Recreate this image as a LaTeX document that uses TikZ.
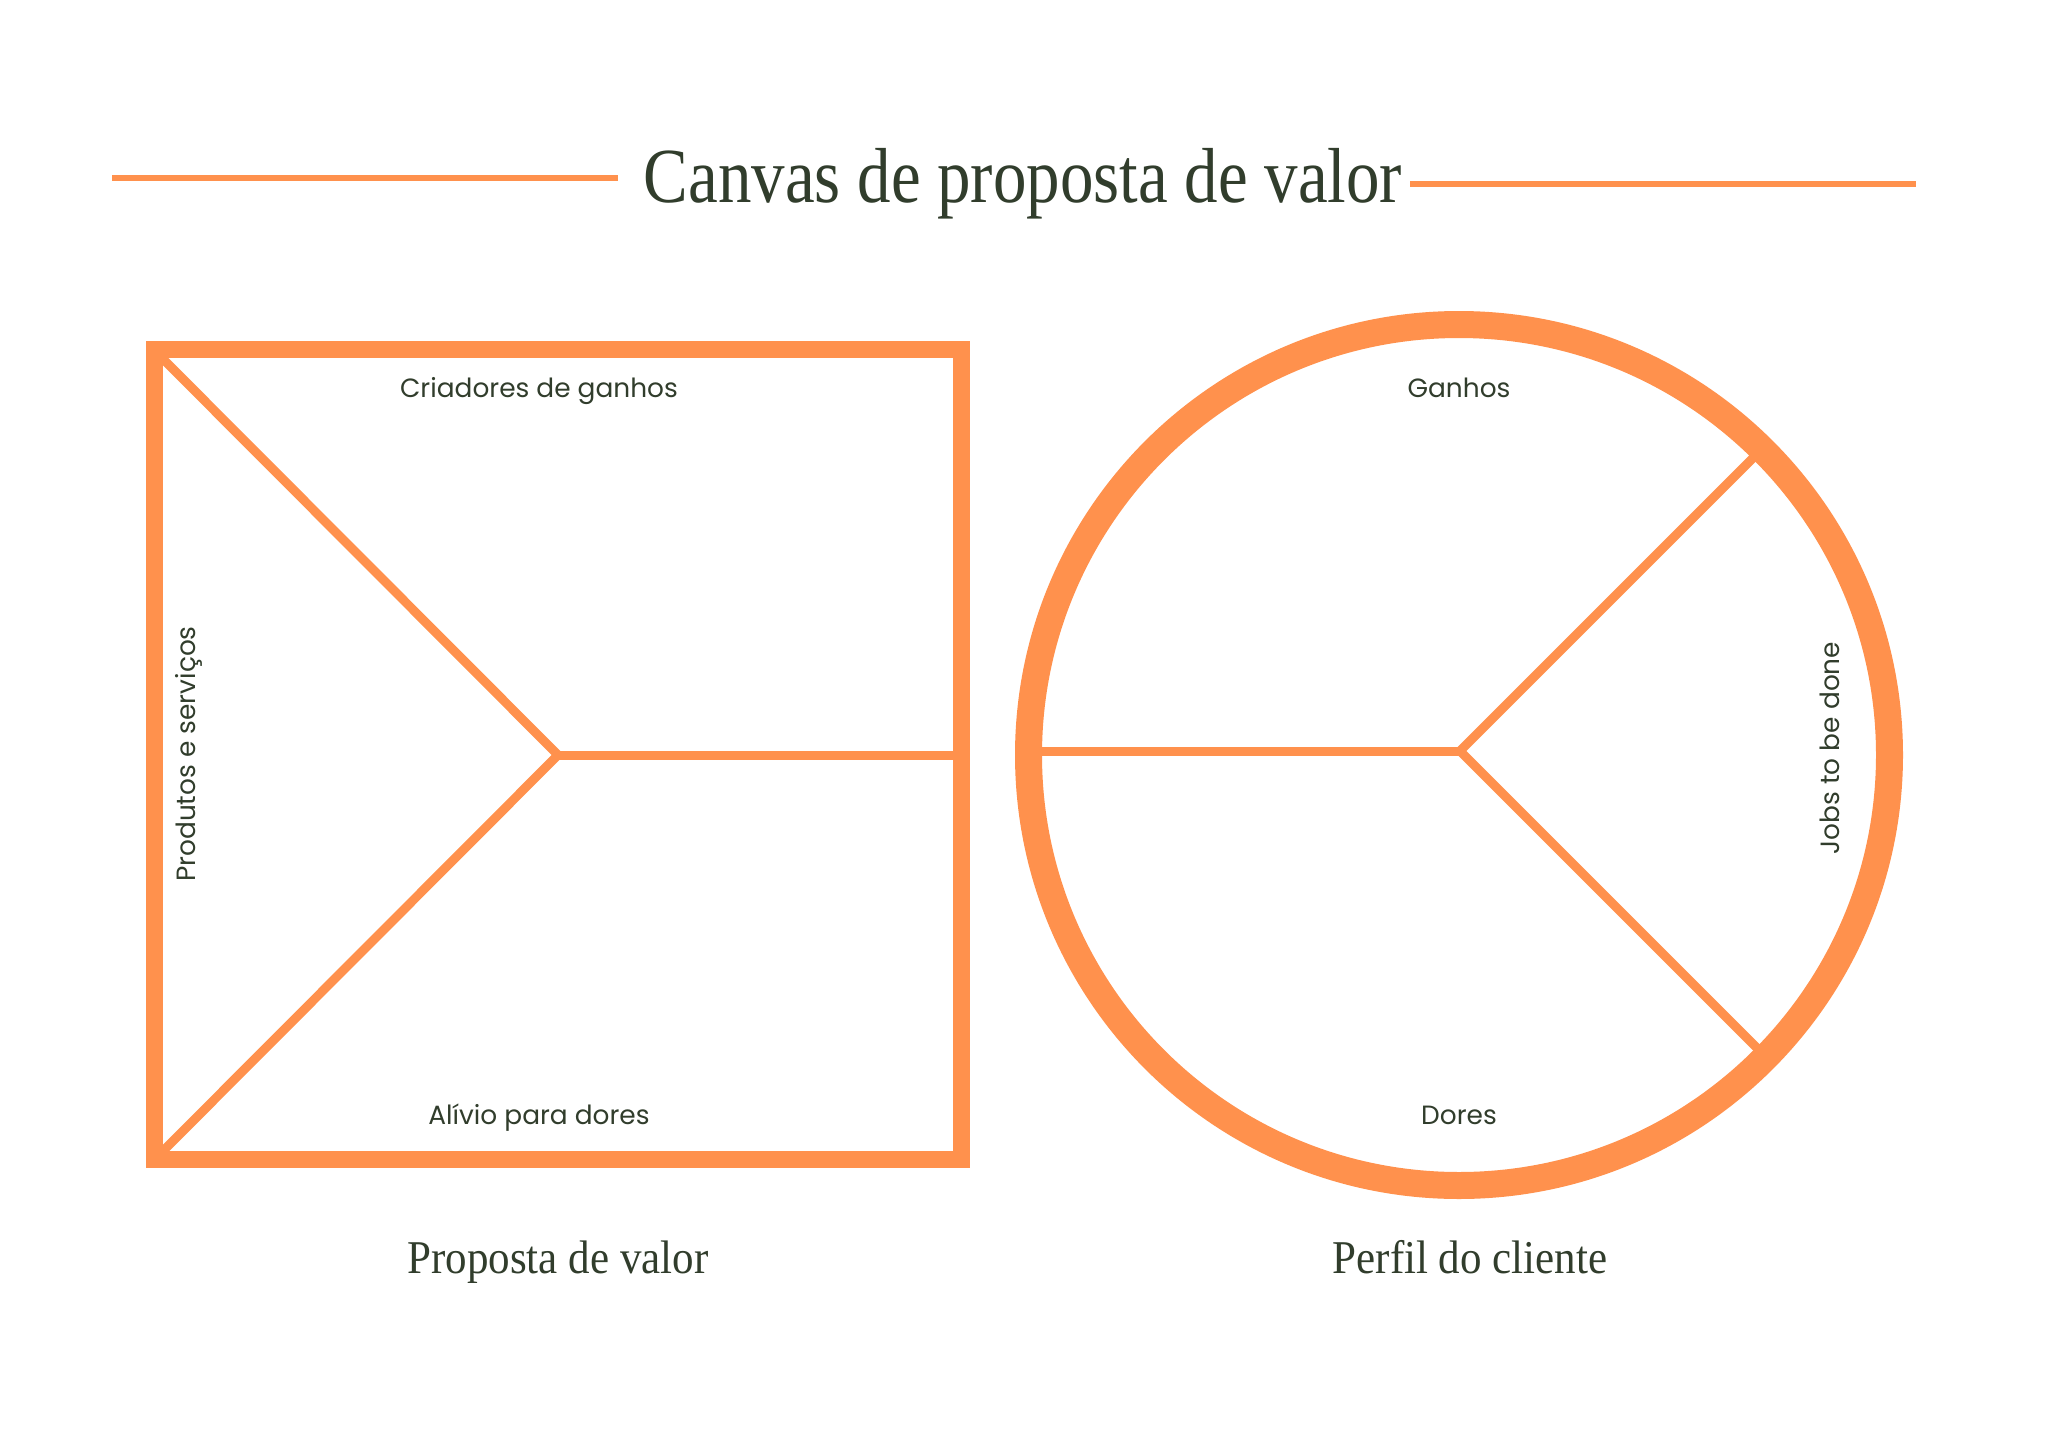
\documentclass[tikz,border=0pt]{standalone}
\usepackage{fontspec}
\setmainfont{Liberation Serif}
\newfontfamily\titlefont[FakeStretch=0.858]{Liberation Serif}
\newfontfamily\subfont[FakeStretch=0.915]{Liberation Serif}
\newfontfamily\labelfont{Poppins}
\definecolor{orng}{HTML}{FF914D}
\definecolor{ink}{HTML}{313D2C}
\begin{document}
\begin{tikzpicture}[x=1pt,y=-1pt,
  rule/.style={draw=orng,line width=6pt},
  frame/.style={draw=orng,line width=17pt},
  ring/.style={draw=orng,line width=27pt},
  divider/.style={draw=orng,line width=9pt,line cap=butt},
  title/.style={text=ink,font=\titlefont\fontsize{78}{90}\selectfont,anchor=base,inner sep=0pt},
  subtitle/.style={text=ink,font=\subfont\fontsize{47}{56}\selectfont,anchor=base,inner sep=0pt},
  lbl/.style={text=ink,font=\labelfont\fontsize{26.4}{32}\selectfont,anchor=base,inner sep=0pt}]
\useasboundingbox[fill=white] (0,0) rectangle (2048,1448);
% title and rules
\node[title] (ttl) at (1023,202) {Canvas de proposta de valor};
\coordinate (l1) at (112,178);
\coordinate (l2) at (618,178);
\coordinate (r1) at (1410,184);
\coordinate (r2) at (1916,184);
\draw[rule] (l1) -- (l2);
\draw[rule] (r1) -- (r2);
% square
\draw[frame] (154.5,349.5) rectangle (961.5,1159.5);
\coordinate (sq-tl) at (162,358);
\coordinate (sq-bl) at (162,1152);
\coordinate (sq-c) at (558,755);
\coordinate (sq-r) at (953,755);
\draw[divider,line join=miter] (sq-tl) -- (sq-c) -- (sq-bl);
\draw[divider] (sq-c) -- (sq-r);
% circle
\coordinate (cc) at (1459,755);
\draw[ring] (cc) circle[radius=430.5];
\coordinate (ci) at (1460,751);
\coordinate (ci-dr) at (1764,1055);
\coordinate (ci-ul) at (1764,447);
\coordinate (ci-l) at (1040,751);
\draw[divider,line join=miter] (ci-ul) -- (ci) -- (ci-dr);
\draw[divider] (ci) -- (ci-l);
% labels
\node[lbl] (cg) at (539,397) {Criadores de ganhos};
\node[lbl] (ad) at (539,1124) {Alívio para dores};
\node[lbl,rotate=90] (ps) at (195,754) {Produtos e serviços};
\node[lbl] (gn) at (1459,397) {Ganhos};
\node[lbl] (dr) at (1459,1124) {Dores};
\node[lbl,rotate=90] (jb) at (1839,748) {Jobs to be done};
\node[subtitle] (pv) at (558,1273) {Proposta de valor};
\node[subtitle] (pc) at (1470,1273) {Perfil do cliente};
\end{tikzpicture}
\end{document}
